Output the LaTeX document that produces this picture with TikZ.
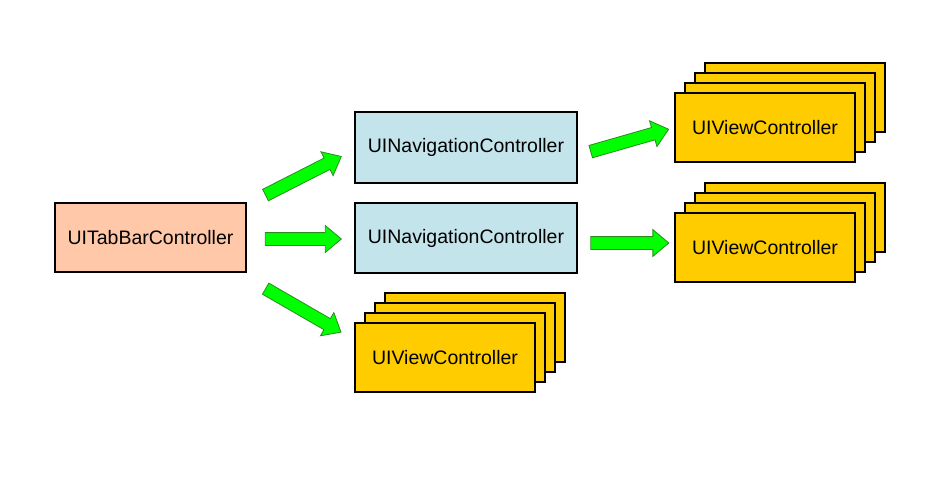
\documentclass[tikz,border=0pt]{standalone}
\usepackage{fontspec}
\setmainfont{Liberation Sans}
\usetikzlibrary{shapes.arrows}
\begin{document}
\begin{tikzpicture}[x=1pt,y=-1pt,
  box/.style={draw=black,line width=1.5pt,inner sep=0pt,font=\fontsize{19.5}{22}\selectfont},
  tab/.style={box,fill={rgb,255:red,255;green,200;blue,168}},
  nav/.style={box,fill={rgb,255:red,196;green,228;blue,236}},
  vc/.style={box,fill={rgb,255:red,255;green,204;blue,0}},
  garrow/.style={single arrow,draw={rgb,255:red,40;green,140;blue,30},fill={rgb,255:red,0;green,255;blue,0},line width=0.8pt,
    minimum height=#1,single arrow head extend=7pt,single arrow tip angle=80,minimum width=26pt,inner xsep=0pt,inner ysep=6pt,text height=0pt,text depth=0pt},
  garrow/.default=80pt]
\useasboundingbox (0,0) rectangle (950,477);
\node[tab,minimum width=191pt,minimum height=69pt] (tab) at (150.5,237.5) {UITabBarController};
\node[nav,minimum width=222pt,minimum height=71pt] (nav1) at (466,147.5) {UINavigationController};
\node[nav,minimum width=222pt,minimum height=70pt] (nav2) at (466,238) {UINavigationController};
% bottom stack
\foreach \i in {3,2,1}{
  \node[vc,minimum width=180pt,minimum height=69pt] (b\i) at (445+10*\i,357.5-10*\i) {};}
\node[vc,minimum width=180pt,minimum height=69pt] (vcb) at (445,357.5) {UIViewController};
% top right stack
\foreach \i in {3,2,1}{
  \node[vc,minimum width=180pt,minimum height=69pt] (t\i) at (765+10*\i,127.5-10*\i) {};}
\node[vc,minimum width=180pt,minimum height=69pt] (vct) at (765,127.5) {UIViewController};
% middle right stack
\foreach \i in {3,2,1}{
  \node[vc,minimum width=180pt,minimum height=69pt] (m\i) at (765+10*\i,247.5-10*\i) {};}
\node[vc,minimum width=180pt,minimum height=69pt] (vcm) at (765,247.5) {UIViewController};
% arrows
\node[garrow=85pt,rotate=27] (a1) at (300,177.5) {};
\node[garrow=76pt] (a2) at (299.5,239) {};
\node[garrow=87pt,rotate=-30] (a3) at (300,308.5) {};
\node[garrow=81pt,rotate=16] (a4) at (626,141.5) {};
\node[garrow=78pt] (a5) at (626,243) {};
\end{tikzpicture}
\end{document}
